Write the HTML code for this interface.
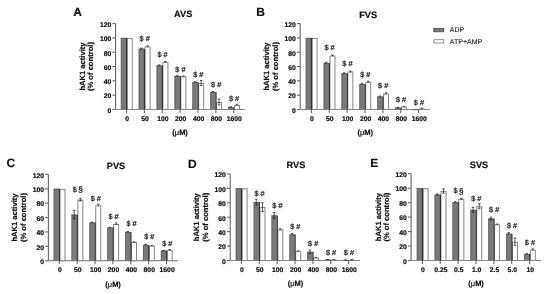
<!DOCTYPE html>
<html><head><meta charset="utf-8"><title>hAK1 activity</title>
<style>
html,body{margin:0;padding:0;background:#fff;}
body{width:550px;height:294px;overflow:hidden;}
svg{display:block;text-rendering:geometricPrecision;font-family:"Liberation Sans", Arial, sans-serif;fill:#111;}
svg text{fill:#111;stroke:#111;stroke-width:0.2px;stroke-linejoin:round;}
svg text.an{fill:#222;stroke:#222;stroke-width:0.28px;}
.ax{stroke:#666;stroke-width:1.1;}
.xa{stroke:#888;stroke-width:1.2;}
.bd{fill:#7a7a7a;}
.bdt{stroke:#555;stroke-width:0.8;}
.bw{fill:#fff;stroke:#858585;stroke-width:1;}
.dv{stroke:#333;stroke-width:1.3;}
.dl{stroke:#5a5a5a;stroke-width:0.7;}
.eb{stroke:#1a1a1a;stroke-width:0.7;}
</style></head>
<body>
<svg width="550" height="294" viewBox="0 0 550 294">
<rect width="550" height="294" fill="#fff"/>
<text x="73.30" y="16.30" font-size="12" font-weight="bold" text-anchor="start">A</text>
<text x="183.20" y="17.30" font-size="9.2" font-weight="bold" text-anchor="middle">AVS</text>
<text transform="translate(84.70,66.55) rotate(-90)" font-size="7.6" font-weight="bold" text-anchor="middle">hAK1 activity</text>
<text transform="translate(93.40,66.55) rotate(-90)" font-size="7.6" font-weight="bold" text-anchor="middle">(% of control)</text>
<line x1="115.60" y1="23.60" x2="115.60" y2="109.50" class="ax"/>
<line x1="112.40" y1="109.50" x2="115.60" y2="109.50" class="ax"/>
<text x="111.30" y="112.80" font-size="6.8" font-weight="bold" text-anchor="end">0</text>
<line x1="112.40" y1="95.18" x2="115.60" y2="95.18" class="ax"/>
<text x="111.30" y="98.48" font-size="6.8" font-weight="bold" text-anchor="end">20</text>
<line x1="112.40" y1="80.87" x2="115.60" y2="80.87" class="ax"/>
<text x="111.30" y="84.17" font-size="6.8" font-weight="bold" text-anchor="end">40</text>
<line x1="112.40" y1="66.55" x2="115.60" y2="66.55" class="ax"/>
<text x="111.30" y="69.85" font-size="6.8" font-weight="bold" text-anchor="end">60</text>
<line x1="112.40" y1="52.23" x2="115.60" y2="52.23" class="ax"/>
<text x="111.30" y="55.53" font-size="6.8" font-weight="bold" text-anchor="end">80</text>
<line x1="112.40" y1="37.92" x2="115.60" y2="37.92" class="ax"/>
<text x="111.30" y="41.22" font-size="6.8" font-weight="bold" text-anchor="end">100</text>
<line x1="112.40" y1="23.60" x2="115.60" y2="23.60" class="ax"/>
<text x="111.30" y="26.90" font-size="6.8" font-weight="bold" text-anchor="end">120</text>
<line x1="115.60" y1="109.50" x2="244.90" y2="109.50" class="xa"/>
<line x1="126.50" y1="109.50" x2="126.50" y2="113.10" class="ax"/>
<text x="127.10" y="120.70" font-size="6.8" font-weight="bold" text-anchor="middle">0</text>
<rect x="120.90" y="37.92" width="5.20" height="71.58" class="bd"/>
<line x1="121.25" y1="37.92" x2="121.25" y2="109.50" class="dl"/>
<line x1="120.90" y1="38.32" x2="126.10" y2="38.32" class="bdt"/>
<rect x="127.20" y="38.42" width="5.00" height="71.08" class="bw"/>
<line x1="126.60" y1="37.92" x2="126.60" y2="109.50" class="dv"/>
<line x1="144.37" y1="109.50" x2="144.37" y2="113.10" class="ax"/>
<text x="144.97" y="120.70" font-size="6.8" font-weight="bold" text-anchor="middle">50</text>
<rect x="138.77" y="48.80" width="5.20" height="60.70" class="bd"/>
<line x1="139.12" y1="48.80" x2="139.12" y2="109.50" class="dl"/>
<line x1="138.77" y1="49.20" x2="143.97" y2="49.20" class="bdt"/>
<rect x="145.07" y="47.01" width="5.00" height="62.49" class="bw"/>
<line x1="144.47" y1="48.80" x2="144.47" y2="109.50" class="dv"/>
<line x1="141.37" y1="49.37" x2="141.37" y2="48.22" class="eb"/>
<line x1="140.07" y1="48.22" x2="142.67" y2="48.22" class="eb"/>
<line x1="147.57" y1="47.08" x2="147.57" y2="45.93" class="eb"/>
<line x1="146.27" y1="45.93" x2="148.87" y2="45.93" class="eb"/>
<text x="144.67" y="40.50" font-size="7.3" font-weight="normal" text-anchor="middle" class="an">$ #</text>
<line x1="162.24" y1="109.50" x2="162.24" y2="113.10" class="ax"/>
<text x="162.84" y="120.70" font-size="6.8" font-weight="bold" text-anchor="middle">100</text>
<rect x="156.64" y="65.48" width="5.20" height="44.02" class="bd"/>
<line x1="156.99" y1="65.48" x2="156.99" y2="109.50" class="dl"/>
<line x1="156.64" y1="65.88" x2="161.84" y2="65.88" class="bdt"/>
<rect x="162.94" y="62.54" width="5.00" height="46.96" class="bw"/>
<line x1="162.34" y1="65.48" x2="162.34" y2="109.50" class="dv"/>
<line x1="159.24" y1="66.05" x2="159.24" y2="64.90" class="eb"/>
<line x1="157.94" y1="64.90" x2="160.54" y2="64.90" class="eb"/>
<line x1="165.44" y1="62.61" x2="165.44" y2="61.47" class="eb"/>
<line x1="164.14" y1="61.47" x2="166.74" y2="61.47" class="eb"/>
<text x="162.54" y="56.80" font-size="7.3" font-weight="normal" text-anchor="middle" class="an">$ #</text>
<line x1="180.11" y1="109.50" x2="180.11" y2="113.10" class="ax"/>
<text x="180.71" y="120.70" font-size="6.8" font-weight="bold" text-anchor="middle">200</text>
<rect x="174.51" y="76.00" width="5.20" height="33.50" class="bd"/>
<line x1="174.86" y1="76.00" x2="174.86" y2="109.50" class="dl"/>
<line x1="174.51" y1="76.40" x2="179.71" y2="76.40" class="bdt"/>
<rect x="180.81" y="76.86" width="5.00" height="32.64" class="bw"/>
<line x1="180.21" y1="76.00" x2="180.21" y2="109.50" class="dv"/>
<line x1="177.11" y1="76.36" x2="177.11" y2="75.64" class="eb"/>
<line x1="175.81" y1="75.64" x2="178.41" y2="75.64" class="eb"/>
<line x1="183.31" y1="76.71" x2="183.31" y2="76.00" class="eb"/>
<line x1="182.01" y1="76.00" x2="184.61" y2="76.00" class="eb"/>
<text x="180.41" y="71.60" font-size="7.3" font-weight="normal" text-anchor="middle" class="an">$ #</text>
<line x1="197.98" y1="109.50" x2="197.98" y2="113.10" class="ax"/>
<text x="198.58" y="120.70" font-size="6.8" font-weight="bold" text-anchor="middle">400</text>
<rect x="192.38" y="82.30" width="5.20" height="27.20" class="bd"/>
<line x1="192.73" y1="82.30" x2="192.73" y2="109.50" class="dl"/>
<line x1="192.38" y1="82.70" x2="197.58" y2="82.70" class="bdt"/>
<rect x="198.68" y="83.51" width="5.00" height="25.99" class="bw"/>
<line x1="198.08" y1="82.30" x2="198.08" y2="109.50" class="dv"/>
<line x1="194.98" y1="82.87" x2="194.98" y2="81.73" class="eb"/>
<line x1="193.68" y1="81.73" x2="196.28" y2="81.73" class="eb"/>
<line x1="201.18" y1="85.52" x2="201.18" y2="80.51" class="eb"/>
<line x1="199.88" y1="80.51" x2="202.48" y2="80.51" class="eb"/>
<line x1="199.88" y1="85.52" x2="202.48" y2="85.52" class="eb"/>
<text x="198.28" y="76.70" font-size="7.3" font-weight="normal" text-anchor="middle" class="an">$ #</text>
<line x1="215.85" y1="109.50" x2="215.85" y2="113.10" class="ax"/>
<text x="216.45" y="120.70" font-size="6.8" font-weight="bold" text-anchor="middle">800</text>
<rect x="210.25" y="92.03" width="5.20" height="17.47" class="bd"/>
<line x1="210.60" y1="92.03" x2="210.60" y2="109.50" class="dl"/>
<line x1="210.25" y1="92.43" x2="215.45" y2="92.43" class="bdt"/>
<rect x="216.55" y="102.48" width="5.00" height="7.02" class="bw"/>
<line x1="215.95" y1="92.03" x2="215.95" y2="109.50" class="dv"/>
<line x1="212.85" y1="92.61" x2="212.85" y2="91.46" class="eb"/>
<line x1="211.55" y1="91.46" x2="214.15" y2="91.46" class="eb"/>
<line x1="219.05" y1="104.85" x2="219.05" y2="99.12" class="eb"/>
<line x1="217.75" y1="99.12" x2="220.35" y2="99.12" class="eb"/>
<line x1="217.75" y1="104.85" x2="220.35" y2="104.85" class="eb"/>
<text x="216.15" y="86.85" font-size="7.3" font-weight="normal" text-anchor="middle" class="an">$ #</text>
<line x1="233.72" y1="109.50" x2="233.72" y2="113.10" class="ax"/>
<text x="234.32" y="120.70" font-size="6.8" font-weight="bold" text-anchor="middle">1600</text>
<rect x="228.12" y="107.35" width="5.20" height="2.15" class="bd"/>
<line x1="228.47" y1="107.35" x2="228.47" y2="109.50" class="dl"/>
<line x1="228.12" y1="107.75" x2="233.32" y2="107.75" class="bdt"/>
<rect x="234.42" y="105.42" width="5.00" height="4.08" class="bw"/>
<line x1="233.82" y1="107.35" x2="233.82" y2="109.50" class="dv"/>
<line x1="230.72" y1="107.93" x2="230.72" y2="106.78" class="eb"/>
<line x1="229.42" y1="106.78" x2="232.02" y2="106.78" class="eb"/>
<line x1="236.92" y1="105.49" x2="236.92" y2="104.35" class="eb"/>
<line x1="235.62" y1="104.35" x2="238.22" y2="104.35" class="eb"/>
<text x="234.02" y="100.65" font-size="7.3" font-weight="normal" text-anchor="middle" class="an">$ #</text>
<text x="180.10" y="135.10" font-size="7.5" font-weight="bold" text-anchor="middle">(<tspan font-weight="normal">μ</tspan>M)</text>
<text x="256.20" y="16.30" font-size="12" font-weight="bold" text-anchor="start">B</text>
<text x="368.20" y="17.90" font-size="9.2" font-weight="bold" text-anchor="middle">FVS</text>
<text transform="translate(268.90,66.55) rotate(-90)" font-size="7.6" font-weight="bold" text-anchor="middle">hAK1 activity</text>
<text transform="translate(277.60,66.55) rotate(-90)" font-size="7.6" font-weight="bold" text-anchor="middle">(% of control)</text>
<line x1="300.20" y1="23.60" x2="300.20" y2="109.50" class="ax"/>
<line x1="297.00" y1="109.50" x2="300.20" y2="109.50" class="ax"/>
<text x="295.90" y="112.80" font-size="6.8" font-weight="bold" text-anchor="end">0</text>
<line x1="297.00" y1="95.18" x2="300.20" y2="95.18" class="ax"/>
<text x="295.90" y="98.48" font-size="6.8" font-weight="bold" text-anchor="end">20</text>
<line x1="297.00" y1="80.87" x2="300.20" y2="80.87" class="ax"/>
<text x="295.90" y="84.17" font-size="6.8" font-weight="bold" text-anchor="end">40</text>
<line x1="297.00" y1="66.55" x2="300.20" y2="66.55" class="ax"/>
<text x="295.90" y="69.85" font-size="6.8" font-weight="bold" text-anchor="end">60</text>
<line x1="297.00" y1="52.23" x2="300.20" y2="52.23" class="ax"/>
<text x="295.90" y="55.53" font-size="6.8" font-weight="bold" text-anchor="end">80</text>
<line x1="297.00" y1="37.92" x2="300.20" y2="37.92" class="ax"/>
<text x="295.90" y="41.22" font-size="6.8" font-weight="bold" text-anchor="end">100</text>
<line x1="297.00" y1="23.60" x2="300.20" y2="23.60" class="ax"/>
<text x="295.90" y="26.90" font-size="6.8" font-weight="bold" text-anchor="end">120</text>
<line x1="300.20" y1="109.50" x2="430.00" y2="109.50" class="xa"/>
<line x1="311.40" y1="109.50" x2="311.40" y2="113.10" class="ax"/>
<text x="312.00" y="120.70" font-size="6.8" font-weight="bold" text-anchor="middle">0</text>
<rect x="305.80" y="37.92" width="5.20" height="71.58" class="bd"/>
<line x1="306.15" y1="37.92" x2="306.15" y2="109.50" class="dl"/>
<line x1="305.80" y1="38.32" x2="311.00" y2="38.32" class="bdt"/>
<rect x="312.10" y="38.42" width="5.00" height="71.08" class="bw"/>
<line x1="311.50" y1="37.92" x2="311.50" y2="109.50" class="dv"/>
<line x1="329.27" y1="109.50" x2="329.27" y2="113.10" class="ax"/>
<text x="329.87" y="120.70" font-size="6.8" font-weight="bold" text-anchor="middle">50</text>
<rect x="323.67" y="62.97" width="5.20" height="46.53" class="bd"/>
<line x1="324.02" y1="62.97" x2="324.02" y2="109.50" class="dl"/>
<line x1="323.67" y1="63.37" x2="328.87" y2="63.37" class="bdt"/>
<rect x="329.97" y="56.10" width="5.00" height="53.40" class="bw"/>
<line x1="329.37" y1="62.97" x2="329.37" y2="109.50" class="dv"/>
<line x1="326.27" y1="63.69" x2="326.27" y2="62.25" class="eb"/>
<line x1="324.97" y1="62.25" x2="327.57" y2="62.25" class="eb"/>
<line x1="332.47" y1="56.17" x2="332.47" y2="55.03" class="eb"/>
<line x1="331.17" y1="55.03" x2="333.77" y2="55.03" class="eb"/>
<text x="329.57" y="49.65" font-size="7.3" font-weight="normal" text-anchor="middle" class="an">$ #</text>
<line x1="347.14" y1="109.50" x2="347.14" y2="113.10" class="ax"/>
<text x="347.74" y="120.70" font-size="6.8" font-weight="bold" text-anchor="middle">100</text>
<rect x="341.54" y="73.35" width="5.20" height="36.15" class="bd"/>
<line x1="341.89" y1="73.35" x2="341.89" y2="109.50" class="dl"/>
<line x1="341.54" y1="73.75" x2="346.74" y2="73.75" class="bdt"/>
<rect x="347.84" y="72.06" width="5.00" height="37.44" class="bw"/>
<line x1="347.24" y1="73.35" x2="347.24" y2="109.50" class="dv"/>
<line x1="344.14" y1="73.92" x2="344.14" y2="72.78" class="eb"/>
<line x1="342.84" y1="72.78" x2="345.44" y2="72.78" class="eb"/>
<line x1="350.34" y1="72.13" x2="350.34" y2="70.99" class="eb"/>
<line x1="349.04" y1="70.99" x2="351.64" y2="70.99" class="eb"/>
<text x="347.44" y="66.30" font-size="7.3" font-weight="normal" text-anchor="middle" class="an">$ #</text>
<line x1="365.01" y1="109.50" x2="365.01" y2="113.10" class="ax"/>
<text x="365.61" y="120.70" font-size="6.8" font-weight="bold" text-anchor="middle">200</text>
<rect x="359.41" y="84.09" width="5.20" height="25.41" class="bd"/>
<line x1="359.76" y1="84.09" x2="359.76" y2="109.50" class="dl"/>
<line x1="359.41" y1="84.49" x2="364.61" y2="84.49" class="bdt"/>
<rect x="365.71" y="82.44" width="5.00" height="27.06" class="bw"/>
<line x1="365.11" y1="84.09" x2="365.11" y2="109.50" class="dv"/>
<line x1="362.01" y1="84.80" x2="362.01" y2="83.37" class="eb"/>
<line x1="360.71" y1="83.37" x2="363.31" y2="83.37" class="eb"/>
<line x1="368.21" y1="82.66" x2="368.21" y2="81.22" class="eb"/>
<line x1="366.91" y1="81.22" x2="369.51" y2="81.22" class="eb"/>
<text x="365.31" y="76.65" font-size="7.3" font-weight="normal" text-anchor="middle" class="an">$ #</text>
<line x1="382.88" y1="109.50" x2="382.88" y2="113.10" class="ax"/>
<text x="383.48" y="120.70" font-size="6.8" font-weight="bold" text-anchor="middle">400</text>
<rect x="377.28" y="96.61" width="5.20" height="12.89" class="bd"/>
<line x1="377.63" y1="96.61" x2="377.63" y2="109.50" class="dl"/>
<line x1="377.28" y1="97.02" x2="382.48" y2="97.02" class="bdt"/>
<rect x="383.58" y="94.04" width="5.00" height="15.46" class="bw"/>
<line x1="382.98" y1="96.61" x2="382.98" y2="109.50" class="dv"/>
<line x1="379.88" y1="97.19" x2="379.88" y2="96.04" class="eb"/>
<line x1="378.58" y1="96.04" x2="381.18" y2="96.04" class="eb"/>
<line x1="386.08" y1="94.25" x2="386.08" y2="92.82" class="eb"/>
<line x1="384.78" y1="92.82" x2="387.38" y2="92.82" class="eb"/>
<text x="383.18" y="87.95" font-size="7.3" font-weight="normal" text-anchor="middle" class="an">$ #</text>
<line x1="400.75" y1="109.50" x2="400.75" y2="113.10" class="ax"/>
<text x="401.35" y="120.70" font-size="6.8" font-weight="bold" text-anchor="middle">800</text>
<rect x="395.15" y="107.71" width="5.20" height="1.79" class="bd"/>
<line x1="395.50" y1="107.71" x2="395.50" y2="109.50" class="dl"/>
<line x1="395.15" y1="108.11" x2="400.35" y2="108.11" class="bdt"/>
<rect x="401.45" y="107.14" width="5.00" height="2.36" class="bw"/>
<line x1="400.85" y1="107.71" x2="400.85" y2="109.50" class="dv"/>
<line x1="397.75" y1="108.07" x2="397.75" y2="107.35" class="eb"/>
<line x1="396.45" y1="107.35" x2="399.05" y2="107.35" class="eb"/>
<line x1="403.95" y1="106.99" x2="403.95" y2="106.28" class="eb"/>
<line x1="402.65" y1="106.28" x2="405.25" y2="106.28" class="eb"/>
<text x="401.05" y="102.40" font-size="7.3" font-weight="normal" text-anchor="middle" class="an">$ #</text>
<line x1="418.62" y1="109.50" x2="418.62" y2="113.10" class="ax"/>
<text x="419.22" y="120.70" font-size="6.8" font-weight="bold" text-anchor="middle">1600</text>
<rect x="413.02" y="109.36" width="5.20" height="0.14" class="bd"/>
<line x1="413.37" y1="109.36" x2="413.37" y2="109.50" class="dl"/>
<line x1="413.02" y1="109.76" x2="418.22" y2="109.76" class="bdt"/>
<rect x="419.32" y="109.07" width="5.00" height="0.43" class="bw"/>
<line x1="418.72" y1="109.36" x2="418.72" y2="109.50" class="dv"/>
<line x1="421.82" y1="109.00" x2="421.82" y2="108.14" class="eb"/>
<line x1="420.52" y1="108.14" x2="423.12" y2="108.14" class="eb"/>
<text x="418.92" y="104.95" font-size="7.3" font-weight="normal" text-anchor="middle" class="an">$ #</text>
<text x="365.20" y="135.10" font-size="7.5" font-weight="bold" text-anchor="middle">(<tspan font-weight="normal">μ</tspan>M)</text>
<text x="6.60" y="166.90" font-size="12" font-weight="bold" text-anchor="start">C</text>
<text x="116.00" y="168.90" font-size="9.2" font-weight="bold" text-anchor="middle">PVS</text>
<text transform="translate(17.10,217.55) rotate(-90)" font-size="7.6" font-weight="bold" text-anchor="middle">hAK1 activity</text>
<text transform="translate(25.80,217.55) rotate(-90)" font-size="7.6" font-weight="bold" text-anchor="middle">(% of control)</text>
<line x1="48.40" y1="174.40" x2="48.40" y2="260.70" class="ax"/>
<line x1="45.20" y1="260.70" x2="48.40" y2="260.70" class="ax"/>
<text x="44.10" y="264.00" font-size="6.8" font-weight="bold" text-anchor="end">0</text>
<line x1="45.20" y1="246.32" x2="48.40" y2="246.32" class="ax"/>
<text x="44.10" y="249.62" font-size="6.8" font-weight="bold" text-anchor="end">20</text>
<line x1="45.20" y1="231.93" x2="48.40" y2="231.93" class="ax"/>
<text x="44.10" y="235.23" font-size="6.8" font-weight="bold" text-anchor="end">40</text>
<line x1="45.20" y1="217.55" x2="48.40" y2="217.55" class="ax"/>
<text x="44.10" y="220.85" font-size="6.8" font-weight="bold" text-anchor="end">60</text>
<line x1="45.20" y1="203.17" x2="48.40" y2="203.17" class="ax"/>
<text x="44.10" y="206.47" font-size="6.8" font-weight="bold" text-anchor="end">80</text>
<line x1="45.20" y1="188.78" x2="48.40" y2="188.78" class="ax"/>
<text x="44.10" y="192.08" font-size="6.8" font-weight="bold" text-anchor="end">100</text>
<line x1="45.20" y1="174.40" x2="48.40" y2="174.40" class="ax"/>
<text x="44.10" y="177.70" font-size="6.8" font-weight="bold" text-anchor="end">120</text>
<line x1="48.40" y1="260.70" x2="178.00" y2="260.70" class="xa"/>
<line x1="59.30" y1="260.70" x2="59.30" y2="264.30" class="ax"/>
<text x="59.90" y="271.90" font-size="6.8" font-weight="bold" text-anchor="middle">0</text>
<rect x="53.70" y="188.78" width="5.20" height="71.92" class="bd"/>
<line x1="54.05" y1="188.78" x2="54.05" y2="260.70" class="dl"/>
<line x1="53.70" y1="189.18" x2="58.90" y2="189.18" class="bdt"/>
<rect x="60.00" y="189.28" width="5.00" height="71.42" class="bw"/>
<line x1="59.40" y1="188.78" x2="59.40" y2="260.70" class="dv"/>
<line x1="77.17" y1="260.70" x2="77.17" y2="264.30" class="ax"/>
<text x="77.77" y="271.90" font-size="6.8" font-weight="bold" text-anchor="middle">50</text>
<rect x="71.57" y="214.67" width="5.20" height="46.03" class="bd"/>
<line x1="71.92" y1="214.67" x2="71.92" y2="260.70" class="dl"/>
<line x1="71.57" y1="215.07" x2="76.77" y2="215.07" class="bdt"/>
<rect x="77.87" y="200.07" width="5.00" height="60.63" class="bw"/>
<line x1="77.27" y1="214.67" x2="77.27" y2="260.70" class="dv"/>
<line x1="74.17" y1="218.99" x2="74.17" y2="210.36" class="eb"/>
<line x1="72.87" y1="210.36" x2="75.47" y2="210.36" class="eb"/>
<line x1="72.87" y1="218.99" x2="75.47" y2="218.99" class="eb"/>
<line x1="80.37" y1="201.01" x2="80.37" y2="198.13" class="eb"/>
<line x1="79.07" y1="198.13" x2="81.67" y2="198.13" class="eb"/>
<line x1="79.07" y1="201.01" x2="81.67" y2="201.01" class="eb"/>
<text x="77.87" y="191.90" font-size="7.3" font-weight="normal" text-anchor="middle" class="an">$ <tspan font-size="8.2" dx="-0.6" dy="0.5">§</tspan></text>
<line x1="95.04" y1="260.70" x2="95.04" y2="264.30" class="ax"/>
<text x="95.64" y="271.90" font-size="6.8" font-weight="bold" text-anchor="middle">100</text>
<rect x="89.44" y="222.58" width="5.20" height="38.12" class="bd"/>
<line x1="89.79" y1="222.58" x2="89.79" y2="260.70" class="dl"/>
<line x1="89.44" y1="222.98" x2="94.64" y2="222.98" class="bdt"/>
<rect x="95.74" y="205.82" width="5.00" height="54.88" class="bw"/>
<line x1="95.14" y1="222.58" x2="95.14" y2="260.70" class="dv"/>
<line x1="92.04" y1="222.94" x2="92.04" y2="222.22" class="eb"/>
<line x1="90.74" y1="222.22" x2="93.34" y2="222.22" class="eb"/>
<line x1="98.24" y1="206.40" x2="98.24" y2="204.25" class="eb"/>
<line x1="96.94" y1="204.25" x2="99.54" y2="204.25" class="eb"/>
<text x="95.74" y="200.55" font-size="7.3" font-weight="normal" text-anchor="middle" class="an">$ #</text>
<line x1="112.91" y1="260.70" x2="112.91" y2="264.30" class="ax"/>
<text x="113.51" y="271.90" font-size="6.8" font-weight="bold" text-anchor="middle">200</text>
<rect x="107.31" y="227.62" width="5.20" height="33.08" class="bd"/>
<line x1="107.66" y1="227.62" x2="107.66" y2="260.70" class="dl"/>
<line x1="107.31" y1="228.02" x2="112.51" y2="228.02" class="bdt"/>
<rect x="113.61" y="224.52" width="5.00" height="36.18" class="bw"/>
<line x1="113.01" y1="227.62" x2="113.01" y2="260.70" class="dv"/>
<line x1="109.91" y1="227.98" x2="109.91" y2="227.26" class="eb"/>
<line x1="108.61" y1="227.26" x2="111.21" y2="227.26" class="eb"/>
<line x1="116.11" y1="225.10" x2="116.11" y2="222.94" class="eb"/>
<line x1="114.81" y1="222.94" x2="117.41" y2="222.94" class="eb"/>
<text x="113.61" y="218.85" font-size="7.3" font-weight="normal" text-anchor="middle" class="an">$ #</text>
<line x1="130.78" y1="260.70" x2="130.78" y2="264.30" class="ax"/>
<text x="131.38" y="271.90" font-size="6.8" font-weight="bold" text-anchor="middle">400</text>
<rect x="125.18" y="231.93" width="5.20" height="28.77" class="bd"/>
<line x1="125.53" y1="231.93" x2="125.53" y2="260.70" class="dl"/>
<line x1="125.18" y1="232.33" x2="130.38" y2="232.33" class="bdt"/>
<rect x="131.48" y="242.50" width="5.00" height="18.20" class="bw"/>
<line x1="130.88" y1="231.93" x2="130.88" y2="260.70" class="dv"/>
<line x1="127.78" y1="232.51" x2="127.78" y2="231.36" class="eb"/>
<line x1="126.48" y1="231.36" x2="129.08" y2="231.36" class="eb"/>
<line x1="133.98" y1="242.22" x2="133.98" y2="241.79" class="eb"/>
<line x1="132.68" y1="241.79" x2="135.28" y2="241.79" class="eb"/>
<text x="131.48" y="226.45" font-size="7.3" font-weight="normal" text-anchor="middle" class="an">$ #</text>
<line x1="148.65" y1="260.70" x2="148.65" y2="264.30" class="ax"/>
<text x="149.25" y="271.90" font-size="6.8" font-weight="bold" text-anchor="middle">800</text>
<rect x="143.05" y="244.88" width="5.20" height="15.82" class="bd"/>
<line x1="143.40" y1="244.88" x2="143.40" y2="260.70" class="dl"/>
<line x1="143.05" y1="245.28" x2="148.25" y2="245.28" class="bdt"/>
<rect x="149.35" y="246.10" width="5.00" height="14.60" class="bw"/>
<line x1="148.75" y1="244.88" x2="148.75" y2="260.70" class="dv"/>
<line x1="145.65" y1="245.45" x2="145.65" y2="244.30" class="eb"/>
<line x1="144.35" y1="244.30" x2="146.95" y2="244.30" class="eb"/>
<line x1="151.85" y1="245.81" x2="151.85" y2="245.38" class="eb"/>
<line x1="150.55" y1="245.38" x2="153.15" y2="245.38" class="eb"/>
<text x="149.35" y="239.45" font-size="7.3" font-weight="normal" text-anchor="middle" class="an">$ #</text>
<line x1="166.52" y1="260.70" x2="166.52" y2="264.30" class="ax"/>
<text x="167.12" y="271.90" font-size="6.8" font-weight="bold" text-anchor="middle">1600</text>
<rect x="160.92" y="250.63" width="5.20" height="10.07" class="bd"/>
<line x1="161.27" y1="250.63" x2="161.27" y2="260.70" class="dl"/>
<line x1="160.92" y1="251.03" x2="166.12" y2="251.03" class="bdt"/>
<rect x="167.22" y="250.41" width="5.00" height="10.29" class="bw"/>
<line x1="166.62" y1="250.63" x2="166.62" y2="260.70" class="dv"/>
<line x1="163.52" y1="250.99" x2="163.52" y2="250.27" class="eb"/>
<line x1="162.22" y1="250.27" x2="164.82" y2="250.27" class="eb"/>
<line x1="169.72" y1="250.27" x2="169.72" y2="249.55" class="eb"/>
<line x1="168.42" y1="249.55" x2="171.02" y2="249.55" class="eb"/>
<text x="167.22" y="245.55" font-size="7.3" font-weight="normal" text-anchor="middle" class="an">$ #</text>
<text x="113.10" y="287.20" font-size="7.5" font-weight="bold" text-anchor="middle">(<tspan font-weight="normal">μ</tspan>M)</text>
<text x="187.90" y="167.60" font-size="12" font-weight="bold" text-anchor="start">D</text>
<text x="295.90" y="168.40" font-size="9.2" font-weight="bold" text-anchor="middle">RVS</text>
<text transform="translate(199.40,217.20) rotate(-90)" font-size="7.6" font-weight="bold" text-anchor="middle">hAK1 activity</text>
<text transform="translate(208.10,217.20) rotate(-90)" font-size="7.6" font-weight="bold" text-anchor="middle">(% of control)</text>
<line x1="230.20" y1="173.90" x2="230.20" y2="260.50" class="ax"/>
<line x1="227.00" y1="260.50" x2="230.20" y2="260.50" class="ax"/>
<text x="225.90" y="263.80" font-size="6.8" font-weight="bold" text-anchor="end">0</text>
<line x1="227.00" y1="246.07" x2="230.20" y2="246.07" class="ax"/>
<text x="225.90" y="249.37" font-size="6.8" font-weight="bold" text-anchor="end">20</text>
<line x1="227.00" y1="231.63" x2="230.20" y2="231.63" class="ax"/>
<text x="225.90" y="234.93" font-size="6.8" font-weight="bold" text-anchor="end">40</text>
<line x1="227.00" y1="217.20" x2="230.20" y2="217.20" class="ax"/>
<text x="225.90" y="220.50" font-size="6.8" font-weight="bold" text-anchor="end">60</text>
<line x1="227.00" y1="202.77" x2="230.20" y2="202.77" class="ax"/>
<text x="225.90" y="206.07" font-size="6.8" font-weight="bold" text-anchor="end">80</text>
<line x1="227.00" y1="188.33" x2="230.20" y2="188.33" class="ax"/>
<text x="225.90" y="191.63" font-size="6.8" font-weight="bold" text-anchor="end">100</text>
<line x1="227.00" y1="173.90" x2="230.20" y2="173.90" class="ax"/>
<text x="225.90" y="177.20" font-size="6.8" font-weight="bold" text-anchor="end">120</text>
<line x1="230.20" y1="260.50" x2="360.00" y2="260.50" class="xa"/>
<line x1="241.40" y1="260.50" x2="241.40" y2="264.10" class="ax"/>
<text x="242.00" y="271.70" font-size="6.8" font-weight="bold" text-anchor="middle">0</text>
<rect x="235.80" y="188.33" width="5.20" height="72.17" class="bd"/>
<line x1="236.15" y1="188.33" x2="236.15" y2="260.50" class="dl"/>
<line x1="235.80" y1="188.73" x2="241.00" y2="188.73" class="bdt"/>
<rect x="242.10" y="188.83" width="5.00" height="71.67" class="bw"/>
<line x1="241.50" y1="188.33" x2="241.50" y2="260.50" class="dv"/>
<line x1="259.27" y1="260.50" x2="259.27" y2="264.10" class="ax"/>
<text x="259.87" y="271.70" font-size="6.8" font-weight="bold" text-anchor="middle">50</text>
<rect x="253.67" y="202.05" width="5.20" height="58.45" class="bd"/>
<line x1="254.02" y1="202.05" x2="254.02" y2="260.50" class="dl"/>
<line x1="253.67" y1="202.45" x2="258.87" y2="202.45" class="bdt"/>
<rect x="259.97" y="207.60" width="5.00" height="52.90" class="bw"/>
<line x1="259.37" y1="202.05" x2="259.37" y2="260.50" class="dv"/>
<line x1="256.27" y1="204.93" x2="256.27" y2="199.16" class="eb"/>
<line x1="254.97" y1="199.16" x2="257.57" y2="199.16" class="eb"/>
<line x1="254.97" y1="204.93" x2="257.57" y2="204.93" class="eb"/>
<line x1="262.47" y1="211.43" x2="262.47" y2="202.77" class="eb"/>
<line x1="261.17" y1="202.77" x2="263.77" y2="202.77" class="eb"/>
<line x1="261.17" y1="211.43" x2="263.77" y2="211.43" class="eb"/>
<text x="259.57" y="195.65" font-size="7.3" font-weight="normal" text-anchor="middle" class="an">$ #</text>
<line x1="277.14" y1="260.50" x2="277.14" y2="264.10" class="ax"/>
<text x="277.74" y="271.70" font-size="6.8" font-weight="bold" text-anchor="middle">100</text>
<rect x="271.54" y="215.40" width="5.20" height="45.10" class="bd"/>
<line x1="271.89" y1="215.40" x2="271.89" y2="260.50" class="dl"/>
<line x1="271.54" y1="215.80" x2="276.74" y2="215.80" class="bdt"/>
<rect x="277.84" y="229.97" width="5.00" height="30.53" class="bw"/>
<line x1="277.24" y1="215.40" x2="277.24" y2="260.50" class="dv"/>
<line x1="274.14" y1="218.28" x2="274.14" y2="212.51" class="eb"/>
<line x1="272.84" y1="212.51" x2="275.44" y2="212.51" class="eb"/>
<line x1="272.84" y1="218.28" x2="275.44" y2="218.28" class="eb"/>
<line x1="280.34" y1="230.05" x2="280.34" y2="228.89" class="eb"/>
<line x1="279.04" y1="228.89" x2="281.64" y2="228.89" class="eb"/>
<text x="277.44" y="208.45" font-size="7.3" font-weight="normal" text-anchor="middle" class="an">$ #</text>
<line x1="295.01" y1="260.50" x2="295.01" y2="264.10" class="ax"/>
<text x="295.61" y="271.70" font-size="6.8" font-weight="bold" text-anchor="middle">200</text>
<rect x="289.41" y="234.52" width="5.20" height="25.98" class="bd"/>
<line x1="289.76" y1="234.52" x2="289.76" y2="260.50" class="dl"/>
<line x1="289.41" y1="234.92" x2="294.61" y2="234.92" class="bdt"/>
<rect x="295.71" y="251.62" width="5.00" height="8.88" class="bw"/>
<line x1="295.11" y1="234.52" x2="295.11" y2="260.50" class="dv"/>
<line x1="292.01" y1="235.60" x2="292.01" y2="233.44" class="eb"/>
<line x1="290.71" y1="233.44" x2="293.31" y2="233.44" class="eb"/>
<line x1="298.21" y1="251.33" x2="298.21" y2="250.90" class="eb"/>
<line x1="296.91" y1="250.90" x2="299.51" y2="250.90" class="eb"/>
<text x="295.31" y="229.35" font-size="7.3" font-weight="normal" text-anchor="middle" class="an">$ #</text>
<line x1="312.88" y1="260.50" x2="312.88" y2="264.10" class="ax"/>
<text x="313.48" y="271.70" font-size="6.8" font-weight="bold" text-anchor="middle">400</text>
<rect x="307.28" y="251.84" width="5.20" height="8.66" class="bd"/>
<line x1="307.63" y1="251.84" x2="307.63" y2="260.50" class="dl"/>
<line x1="307.28" y1="252.24" x2="312.48" y2="252.24" class="bdt"/>
<rect x="313.58" y="258.11" width="5.00" height="2.39" class="bw"/>
<line x1="312.98" y1="251.84" x2="312.98" y2="260.50" class="dv"/>
<line x1="309.88" y1="253.64" x2="309.88" y2="250.04" class="eb"/>
<line x1="308.58" y1="250.04" x2="311.18" y2="250.04" class="eb"/>
<line x1="308.58" y1="253.64" x2="311.18" y2="253.64" class="eb"/>
<line x1="316.08" y1="257.83" x2="316.08" y2="257.40" class="eb"/>
<line x1="314.78" y1="257.40" x2="317.38" y2="257.40" class="eb"/>
<text x="313.18" y="245.75" font-size="7.3" font-weight="normal" text-anchor="middle" class="an">$ #</text>
<line x1="330.75" y1="260.50" x2="330.75" y2="264.10" class="ax"/>
<text x="331.35" y="271.70" font-size="6.8" font-weight="bold" text-anchor="middle">800</text>
<rect x="325.15" y="259.63" width="5.20" height="0.87" class="bd"/>
<line x1="325.50" y1="259.63" x2="325.50" y2="260.50" class="dl"/>
<line x1="325.15" y1="260.03" x2="330.35" y2="260.03" class="bdt"/>
<rect x="331.45" y="260.13" width="5.00" height="0.37" class="bw"/>
<line x1="330.85" y1="259.63" x2="330.85" y2="260.50" class="dv"/>
<line x1="327.75" y1="259.85" x2="327.75" y2="259.42" class="eb"/>
<line x1="326.45" y1="259.42" x2="329.05" y2="259.42" class="eb"/>
<line x1="333.95" y1="259.85" x2="333.95" y2="259.42" class="eb"/>
<line x1="332.65" y1="259.42" x2="335.25" y2="259.42" class="eb"/>
<text x="331.05" y="255.20" font-size="7.3" font-weight="normal" text-anchor="middle" class="an">$ #</text>
<line x1="348.62" y1="260.50" x2="348.62" y2="264.10" class="ax"/>
<text x="349.22" y="271.70" font-size="6.8" font-weight="bold" text-anchor="middle">1600</text>
<rect x="343.02" y="260.07" width="5.20" height="0.43" class="bd"/>
<line x1="343.37" y1="260.07" x2="343.37" y2="260.50" class="dl"/>
<line x1="343.02" y1="260.47" x2="348.22" y2="260.47" class="bdt"/>
<rect x="349.32" y="260.28" width="5.00" height="0.22" class="bw"/>
<line x1="348.72" y1="260.07" x2="348.72" y2="260.50" class="dv"/>
<line x1="345.62" y1="260.28" x2="345.62" y2="259.85" class="eb"/>
<line x1="344.32" y1="259.85" x2="346.92" y2="259.85" class="eb"/>
<line x1="351.82" y1="259.99" x2="351.82" y2="259.56" class="eb"/>
<line x1="350.52" y1="259.56" x2="353.12" y2="259.56" class="eb"/>
<text x="348.92" y="255.20" font-size="7.3" font-weight="normal" text-anchor="middle" class="an">$ #</text>
<text x="295.50" y="286.10" font-size="7.5" font-weight="bold" text-anchor="middle">(<tspan font-weight="normal">μ</tspan>M)</text>
<text x="370.20" y="167.30" font-size="12" font-weight="bold" text-anchor="start">E</text>
<text x="479.00" y="168.20" font-size="9.2" font-weight="bold" text-anchor="middle">SVS</text>
<text transform="translate(380.70,217.10) rotate(-90)" font-size="7.6" font-weight="bold" text-anchor="middle">hAK1 activity</text>
<text transform="translate(389.40,217.10) rotate(-90)" font-size="7.6" font-weight="bold" text-anchor="middle">(% of control)</text>
<line x1="411.10" y1="173.70" x2="411.10" y2="260.50" class="ax"/>
<line x1="407.90" y1="260.50" x2="411.10" y2="260.50" class="ax"/>
<text x="406.80" y="263.80" font-size="6.8" font-weight="bold" text-anchor="end">0</text>
<line x1="407.90" y1="246.03" x2="411.10" y2="246.03" class="ax"/>
<text x="406.80" y="249.33" font-size="6.8" font-weight="bold" text-anchor="end">20</text>
<line x1="407.90" y1="231.57" x2="411.10" y2="231.57" class="ax"/>
<text x="406.80" y="234.87" font-size="6.8" font-weight="bold" text-anchor="end">40</text>
<line x1="407.90" y1="217.10" x2="411.10" y2="217.10" class="ax"/>
<text x="406.80" y="220.40" font-size="6.8" font-weight="bold" text-anchor="end">60</text>
<line x1="407.90" y1="202.63" x2="411.10" y2="202.63" class="ax"/>
<text x="406.80" y="205.93" font-size="6.8" font-weight="bold" text-anchor="end">80</text>
<line x1="407.90" y1="188.17" x2="411.10" y2="188.17" class="ax"/>
<text x="406.80" y="191.47" font-size="6.8" font-weight="bold" text-anchor="end">100</text>
<line x1="407.90" y1="173.70" x2="411.10" y2="173.70" class="ax"/>
<text x="406.80" y="177.00" font-size="6.8" font-weight="bold" text-anchor="end">120</text>
<line x1="411.10" y1="260.50" x2="541.00" y2="260.50" class="xa"/>
<line x1="422.40" y1="260.50" x2="422.40" y2="264.10" class="ax"/>
<text x="423.00" y="271.70" font-size="6.8" font-weight="bold" text-anchor="middle">0</text>
<rect x="416.80" y="188.17" width="5.20" height="72.33" class="bd"/>
<line x1="417.15" y1="188.17" x2="417.15" y2="260.50" class="dl"/>
<line x1="416.80" y1="188.57" x2="422.00" y2="188.57" class="bdt"/>
<rect x="423.10" y="188.67" width="5.00" height="71.83" class="bw"/>
<line x1="422.50" y1="188.17" x2="422.50" y2="260.50" class="dv"/>
<line x1="440.27" y1="260.50" x2="440.27" y2="264.10" class="ax"/>
<text x="440.87" y="271.70" font-size="6.8" font-weight="bold" text-anchor="middle">0.25</text>
<rect x="434.67" y="194.68" width="5.20" height="65.82" class="bd"/>
<line x1="435.02" y1="194.68" x2="435.02" y2="260.50" class="dl"/>
<line x1="434.67" y1="195.08" x2="439.87" y2="195.08" class="bdt"/>
<rect x="440.97" y="191.56" width="5.00" height="68.94" class="bw"/>
<line x1="440.37" y1="194.68" x2="440.37" y2="260.50" class="dv"/>
<line x1="437.27" y1="195.40" x2="437.27" y2="193.95" class="eb"/>
<line x1="435.97" y1="193.95" x2="438.57" y2="193.95" class="eb"/>
<line x1="443.47" y1="193.23" x2="443.47" y2="188.89" class="eb"/>
<line x1="442.17" y1="188.89" x2="444.77" y2="188.89" class="eb"/>
<line x1="442.17" y1="193.23" x2="444.77" y2="193.23" class="eb"/>
<line x1="458.14" y1="260.50" x2="458.14" y2="264.10" class="ax"/>
<text x="458.74" y="271.70" font-size="6.8" font-weight="bold" text-anchor="middle">0.5</text>
<rect x="452.54" y="202.27" width="5.20" height="58.23" class="bd"/>
<line x1="452.89" y1="202.27" x2="452.89" y2="260.50" class="dl"/>
<line x1="452.54" y1="202.67" x2="457.74" y2="202.67" class="bdt"/>
<rect x="458.84" y="199.52" width="5.00" height="60.98" class="bw"/>
<line x1="458.24" y1="202.27" x2="458.24" y2="260.50" class="dv"/>
<line x1="455.14" y1="202.85" x2="455.14" y2="201.69" class="eb"/>
<line x1="453.84" y1="201.69" x2="456.44" y2="201.69" class="eb"/>
<line x1="461.34" y1="199.74" x2="461.34" y2="198.29" class="eb"/>
<line x1="460.04" y1="198.29" x2="462.64" y2="198.29" class="eb"/>
<text x="458.44" y="193.40" font-size="7.3" font-weight="normal" text-anchor="middle" class="an">$ <tspan font-size="8.2" dx="-0.6" dy="0.5">§</tspan></text>
<line x1="476.01" y1="260.50" x2="476.01" y2="264.10" class="ax"/>
<text x="476.61" y="271.70" font-size="6.8" font-weight="bold" text-anchor="middle">1.0</text>
<rect x="470.41" y="209.87" width="5.20" height="50.63" class="bd"/>
<line x1="470.76" y1="209.87" x2="470.76" y2="260.50" class="dl"/>
<line x1="470.41" y1="210.27" x2="475.61" y2="210.27" class="bdt"/>
<rect x="476.71" y="206.75" width="5.00" height="53.75" class="bw"/>
<line x1="476.11" y1="209.87" x2="476.11" y2="260.50" class="dv"/>
<line x1="473.01" y1="212.40" x2="473.01" y2="207.34" class="eb"/>
<line x1="471.71" y1="207.34" x2="474.31" y2="207.34" class="eb"/>
<line x1="471.71" y1="212.40" x2="474.31" y2="212.40" class="eb"/>
<line x1="479.21" y1="208.78" x2="479.21" y2="203.72" class="eb"/>
<line x1="477.91" y1="203.72" x2="480.51" y2="203.72" class="eb"/>
<line x1="477.91" y1="208.78" x2="480.51" y2="208.78" class="eb"/>
<text x="476.31" y="201.05" font-size="7.3" font-weight="normal" text-anchor="middle" class="an">$ #</text>
<line x1="493.88" y1="260.50" x2="493.88" y2="264.10" class="ax"/>
<text x="494.48" y="271.70" font-size="6.8" font-weight="bold" text-anchor="middle">2.5</text>
<rect x="488.28" y="218.55" width="5.20" height="41.95" class="bd"/>
<line x1="488.63" y1="218.55" x2="488.63" y2="260.50" class="dl"/>
<line x1="488.28" y1="218.95" x2="493.48" y2="218.95" class="bdt"/>
<rect x="494.58" y="224.83" width="5.00" height="35.67" class="bw"/>
<line x1="493.98" y1="218.55" x2="493.98" y2="260.50" class="dv"/>
<line x1="490.88" y1="219.99" x2="490.88" y2="217.10" class="eb"/>
<line x1="489.58" y1="217.10" x2="492.18" y2="217.10" class="eb"/>
<line x1="489.58" y1="219.99" x2="492.18" y2="219.99" class="eb"/>
<line x1="497.08" y1="224.55" x2="497.08" y2="224.12" class="eb"/>
<line x1="495.78" y1="224.12" x2="498.38" y2="224.12" class="eb"/>
<text x="494.18" y="211.75" font-size="7.3" font-weight="normal" text-anchor="middle" class="an">$ #</text>
<line x1="511.75" y1="260.50" x2="511.75" y2="264.10" class="ax"/>
<text x="512.35" y="271.70" font-size="6.8" font-weight="bold" text-anchor="middle">5.0</text>
<rect x="506.15" y="233.74" width="5.20" height="26.76" class="bd"/>
<line x1="506.50" y1="233.74" x2="506.50" y2="260.50" class="dl"/>
<line x1="506.15" y1="234.14" x2="511.35" y2="234.14" class="bdt"/>
<rect x="512.45" y="242.19" width="5.00" height="18.31" class="bw"/>
<line x1="511.85" y1="233.74" x2="511.85" y2="260.50" class="dv"/>
<line x1="508.75" y1="234.82" x2="508.75" y2="232.65" class="eb"/>
<line x1="507.45" y1="232.65" x2="510.05" y2="232.65" class="eb"/>
<line x1="514.95" y1="245.31" x2="514.95" y2="238.08" class="eb"/>
<line x1="513.65" y1="238.08" x2="516.25" y2="238.08" class="eb"/>
<line x1="513.65" y1="245.31" x2="516.25" y2="245.31" class="eb"/>
<text x="512.05" y="228.00" font-size="7.3" font-weight="normal" text-anchor="middle" class="an">$ #</text>
<line x1="529.62" y1="260.50" x2="529.62" y2="264.10" class="ax"/>
<text x="530.22" y="271.70" font-size="6.8" font-weight="bold" text-anchor="middle">10</text>
<rect x="524.02" y="253.99" width="5.20" height="6.51" class="bd"/>
<line x1="524.37" y1="253.99" x2="524.37" y2="260.50" class="dl"/>
<line x1="524.02" y1="254.39" x2="529.22" y2="254.39" class="bdt"/>
<rect x="530.32" y="250.15" width="5.00" height="10.35" class="bw"/>
<line x1="529.72" y1="253.99" x2="529.72" y2="260.50" class="dv"/>
<line x1="526.62" y1="254.35" x2="526.62" y2="253.63" class="eb"/>
<line x1="525.32" y1="253.63" x2="527.92" y2="253.63" class="eb"/>
<line x1="532.82" y1="250.37" x2="532.82" y2="248.93" class="eb"/>
<line x1="531.52" y1="248.93" x2="534.12" y2="248.93" class="eb"/>
<text x="529.92" y="244.55" font-size="7.3" font-weight="normal" text-anchor="middle" class="an">$ #</text>
<text x="476.10" y="286.40" font-size="7.5" font-weight="bold" text-anchor="middle">(<tspan font-weight="normal">μ</tspan>M)</text>
<rect x="433.8" y="28.5" width="10.0" height="3.3" fill="#7a7a7a" stroke="#444" stroke-width="0.8"/>
<rect x="433.8" y="39.7" width="10.0" height="3.3" fill="#fff" stroke="#7a7a7a" stroke-width="0.8"/>
<text x="449.80" y="32.20" font-size="7" font-weight="normal" text-anchor="start" style="stroke-width:0.1px">ADP</text>
<text x="449.80" y="43.80" font-size="7" font-weight="normal" text-anchor="start" style="stroke-width:0.1px">ATP+AMP</text>
</svg>
</body></html>
